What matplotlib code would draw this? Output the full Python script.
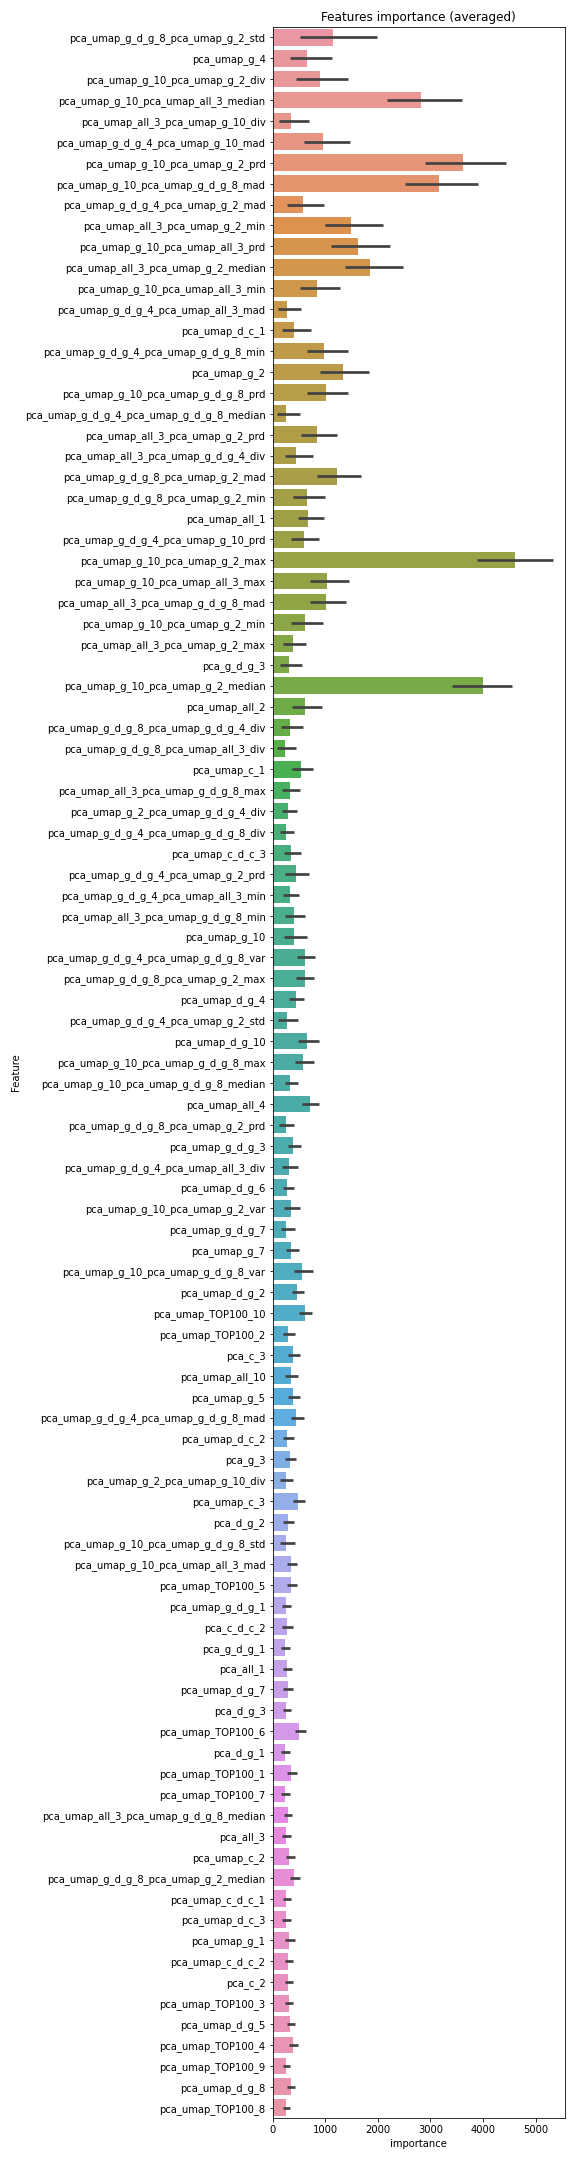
import matplotlib
matplotlib.use("Agg")
import matplotlib.pyplot as plt
import seaborn as sns
import numpy as np

features = [
    "pca_umap_g_d_g_8_pca_umap_g_2_std", "pca_umap_g_4", "pca_umap_g_10_pca_umap_g_2_div",
    "pca_umap_g_10_pca_umap_all_3_median", "pca_umap_all_3_pca_umap_g_10_div",
    "pca_umap_g_d_g_4_pca_umap_g_10_mad", "pca_umap_g_10_pca_umap_g_2_prd",
    "pca_umap_g_10_pca_umap_g_d_g_8_mad", "pca_umap_g_d_g_4_pca_umap_g_2_mad",
    "pca_umap_all_3_pca_umap_g_2_min", "pca_umap_g_10_pca_umap_all_3_prd",
    "pca_umap_all_3_pca_umap_g_2_median", "pca_umap_g_10_pca_umap_all_3_min",
    "pca_umap_g_d_g_4_pca_umap_all_3_mad", "pca_umap_d_c_1",
    "pca_umap_g_d_g_4_pca_umap_g_d_g_8_min", "pca_umap_g_2",
    "pca_umap_g_10_pca_umap_g_d_g_8_prd", "pca_umap_g_d_g_4_pca_umap_g_d_g_8_median",
    "pca_umap_all_3_pca_umap_g_2_prd", "pca_umap_all_3_pca_umap_g_d_g_4_div",
    "pca_umap_g_d_g_8_pca_umap_g_2_mad", "pca_umap_g_d_g_8_pca_umap_g_2_min",
    "pca_umap_all_1", "pca_umap_g_d_g_4_pca_umap_g_10_prd",
    "pca_umap_g_10_pca_umap_g_2_max", "pca_umap_g_10_pca_umap_all_3_max",
    "pca_umap_all_3_pca_umap_g_d_g_8_mad", "pca_umap_g_10_pca_umap_g_2_min",
    "pca_umap_all_3_pca_umap_g_2_max", "pca_g_d_g_3",
    "pca_umap_g_10_pca_umap_g_2_median", "pca_umap_all_2",
    "pca_umap_g_d_g_8_pca_umap_g_d_g_4_div", "pca_umap_g_d_g_8_pca_umap_all_3_div",
    "pca_umap_c_1", "pca_umap_all_3_pca_umap_g_d_g_8_max",
    "pca_umap_g_2_pca_umap_g_d_g_4_div", "pca_umap_g_d_g_4_pca_umap_g_d_g_8_div",
    "pca_umap_c_d_c_3", "pca_umap_g_d_g_4_pca_umap_g_2_prd",
    "pca_umap_g_d_g_4_pca_umap_all_3_min", "pca_umap_all_3_pca_umap_g_d_g_8_min",
    "pca_umap_g_10", "pca_umap_g_d_g_4_pca_umap_g_d_g_8_var",
    "pca_umap_g_d_g_8_pca_umap_g_2_max", "pca_umap_d_g_4",
    "pca_umap_g_d_g_4_pca_umap_g_2_std", "pca_umap_d_g_10",
    "pca_umap_g_10_pca_umap_g_d_g_8_max", "pca_umap_g_10_pca_umap_g_d_g_8_median",
    "pca_umap_all_4", "pca_umap_g_d_g_8_pca_umap_g_2_prd", "pca_umap_g_d_g_3",
    "pca_umap_g_d_g_4_pca_umap_all_3_div", "pca_umap_d_g_6",
    "pca_umap_g_10_pca_umap_g_2_var", "pca_umap_g_d_g_7", "pca_umap_g_7",
    "pca_umap_g_10_pca_umap_g_d_g_8_var", "pca_umap_d_g_2", "pca_umap_TOP100_10",
    "pca_umap_TOP100_2", "pca_c_3", "pca_umap_all_10", "pca_umap_g_5",
    "pca_umap_g_d_g_4_pca_umap_g_d_g_8_mad", "pca_umap_d_c_2", "pca_g_3",
    "pca_umap_g_2_pca_umap_g_10_div", "pca_umap_c_3", "pca_d_g_2",
    "pca_umap_g_10_pca_umap_g_d_g_8_std", "pca_umap_g_10_pca_umap_all_3_mad",
    "pca_umap_TOP100_5", "pca_umap_g_d_g_1", "pca_c_d_c_2", "pca_g_d_g_1",
    "pca_all_1", "pca_umap_d_g_7", "pca_d_g_3", "pca_umap_TOP100_6", "pca_d_g_1",
    "pca_umap_TOP100_1", "pca_umap_TOP100_7", "pca_umap_all_3_pca_umap_g_d_g_8_median",
    "pca_all_3", "pca_umap_c_2", "pca_umap_g_d_g_8_pca_umap_g_2_median",
    "pca_umap_c_d_c_1", "pca_umap_d_c_3", "pca_umap_g_1", "pca_umap_c_d_c_2",
    "pca_c_2", "pca_umap_TOP100_3", "pca_umap_d_g_5", "pca_umap_TOP100_4",
    "pca_umap_TOP100_9", "pca_umap_d_g_8", "pca_umap_TOP100_8",
]

# mean importance over folds
importance = [
    1151, 653, 905, 2814, 351, 961, 3614, 3158, 582, 1495,
    1614, 1860, 849, 274, 407, 982, 1340, 1018, 253, 849,
    442, 1228, 653, 674, 596, 4611, 1039, 1018, 618, 386,
    309, 4000, 618, 330, 239, 540, 330, 295, 253, 351,
    442, 330, 407, 407, 618, 618, 442, 274, 653, 582,
    330, 716, 253, 386, 309, 274, 351, 253, 351, 561,
    463, 618, 295, 386, 351, 386, 442, 274, 330, 253,
    484, 295, 253, 351, 351, 253, 274, 239, 274, 295,
    253, 505, 239, 351, 239, 295, 253, 309, 407, 253,
    253, 309, 295, 295, 309, 330, 386, 253, 351, 253,
]

# confidence interval ends
ci_low = [
    519, 323, 449, 2175, 126, 596, 2898, 2512, 281, 989,
    1109, 1368, 526, 105, 189, 646, 898, 653, 77, 533,
    232, 842, 393, 477, 358, 3888, 709, 709, 358, 204,
    147, 3411, 379, 168, 91, 379, 182, 182, 147, 225,
    246, 204, 246, 225, 470, 449, 316, 105, 491, 435,
    246, 568, 126, 302, 182, 204, 225, 168, 260, 414,
    379, 512, 204, 302, 246, 302, 358, 204, 246, 147,
    393, 204, 147, 281, 281, 182, 182, 168, 204, 204,
    204, 428, 168, 281, 168, 225, 182, 260, 337, 204,
    182, 246, 246, 246, 246, 281, 316, 204, 281, 204,
]
ci_high = [
    1986, 1130, 1432, 3607, 695, 1474, 4435, 3902, 982, 2105,
    2239, 2470, 1284, 540, 730, 1432, 1839, 1439, 519, 1221,
    772, 1684, 996, 982, 884, 5333, 1460, 1396, 961, 632,
    561, 4547, 940, 575, 442, 772, 519, 463, 407, 540,
    695, 505, 618, 653, 807, 786, 596, 484, 884, 786,
    484, 884, 407, 540, 484, 407, 519, 428, 505, 772,
    596, 751, 428, 519, 484, 519, 596, 407, 442, 393,
    618, 407, 428, 463, 463, 351, 393, 330, 372, 393,
    351, 639, 330, 463, 330, 372, 351, 428, 519, 351,
    351, 428, 386, 386, 386, 428, 484, 330, 428, 330,
]

n = len(features)
colors = sns.color_palette(sns.husl_palette(n, l=.7), desat=0.75)
pos = np.arange(n)

fig, ax = plt.subplots(figsize=(8, 30), dpi=72)
ax.barh(pos, importance, height=0.8, color=colors)
for i in range(n):
    ax.plot([ci_low[i], ci_high[i]], [i, i], color=".26", lw=2.7, solid_capstyle="butt")
ax.set_yticks(pos)
ax.set_yticklabels(features)
ax.set_ylim(n - 0.5, -0.5)
ax.set_xlim(0, 5560)
ax.set_xlabel("importance")
ax.set_ylabel("Feature")
ax.set_title("Features importance (averaged)")
plt.tight_layout()
plt.savefig("out.png")
